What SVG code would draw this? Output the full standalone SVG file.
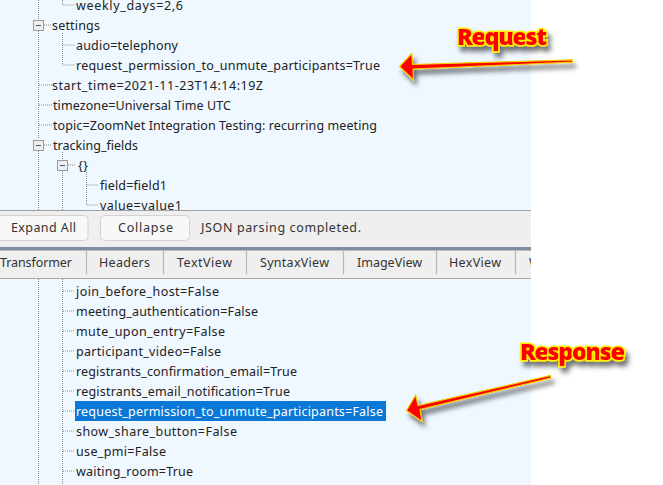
<svg xmlns="http://www.w3.org/2000/svg" width="663" height="485" viewBox="0 0 663 485">
<defs>
<filter id="sh" x="-20%" y="-40%" width="140%" height="200%"><feDropShadow dx="3" dy="5" stdDeviation="2.800" flood-color="#000" flood-opacity="0.55"/></filter>
<clipPath id="win"><rect x="0" y="0" width="531" height="485"/></clipPath>
</defs>
<style>
text{font-family:"Noto Sans","DejaVu Sans",sans-serif;font-size:12.5px;fill:#222}
.t{font-size:12.5px}
.ui{fill:#333;font-size:12.5px}
.sel{fill:#fff}
.dot{stroke:#8a8a8a;stroke-width:1;stroke-dasharray:1 1;fill:none}
.box{fill:#eee;stroke:#9a9a9a;stroke-width:1}
.minus{stroke:#3a5a8a;stroke-width:1}
.btn{fill:#f8f8f8;stroke:#d2d2d2;stroke-width:1}
.sep{stroke:#b8b8b8;stroke-width:1.2}
.call{font-family:"Open Sans","Noto Sans",sans-serif;font-weight:800;font-size:23.500px;fill:#f00;stroke:#ffee00;stroke-width:3.200px;paint-order:stroke}
.arrow{fill:#f00;stroke:#f2d000;stroke-width:1.200;stroke-linejoin:miter}
</style>
<rect width="663" height="485" fill="#fff"/>
<g id="window" clip-path="url(#win)">
<rect x="0" y="0" width="531" height="210" fill="#eff7ff"/>
<rect x="0" y="210" width="531" height="69" fill="#efefef"/>
<rect x="0" y="279" width="531" height="206" fill="#eff7ff"/>
<line x1="0" y1="210.500" x2="531" y2="210.500" stroke="#a0a0a0"/>
<rect x="0" y="247" width="531" height="3.500" fill="#7f8e9e"/>
<line x1="0" y1="278.500" x2="531" y2="278.500" stroke="#a8a8a8"/>
<g id="connectors">
<path class="dot" d="M38.500 0V20M38.500 31V139M38.500 151V210M62.500 0V5H75M44 25H52M62.500 33V65H75M62.500 45H75M39 85H52M39 105H52M39 125H52M44 145H52M62.500 152V159M62.500 171V210M68 165H76M86.500 172V205H98M86.500 185H98"/>
<path class="dot" d="M38.500 279V485M62.500 279V485M63 291H75M63 311H75M63 331H75M63 351H75M63 371H75M63 391H75M63 411H75M63 431H75M63 451H75M63 471H75"/>
</g>
<g id="tree-upper">
<text class="t" x="76" y="9.500" textLength="107">weekly_days=2,6</text>
<g id="n-settings"><rect class="box" x="33.500" y="20.500" width="10" height="10"/><line class="minus" x1="36" y1="25.500" x2="41" y2="25.500"/><text class="t" x="52" y="29.500" textLength="48">settings</text></g>
<text class="t" x="76" y="49.500" textLength="102">audio=telephony</text>
<text class="t" x="76" y="69.500" textLength="304">request_permission_to_unmute_participants=True</text>
<text class="t" x="52" y="89.500" textLength="211">start_time=2021-11-23T14:14:19Z</text>
<text class="t" x="53" y="109.500" textLength="178">timezone=Universal Time UTC</text>
<text class="t" x="53" y="129.500" textLength="324">topic=ZoomNet Integration Testing: recurring meeting</text>
<g id="n-tracking"><rect class="box" x="33.500" y="140.500" width="10" height="10"/><line class="minus" x1="36" y1="145.500" x2="41" y2="145.500"/><text class="t" x="53" y="149.500" textLength="85">tracking_fields</text></g>
<g id="n-object"><rect class="box" x="57.500" y="160.500" width="10" height="10"/><line class="minus" x1="60" y1="165.500" x2="65" y2="165.500"/><text class="t" x="78" y="169.500" textLength="10">{}</text></g>
<text class="t" x="100" y="189.500" textLength="67">field=field1</text>
<text class="t" x="100" y="209.500" textLength="82">value=value1</text>
</g>
<rect x="0" y="211" width="531" height="36" fill="#efefef"/>
<line x1="0" y1="210.500" x2="531" y2="210.500" stroke="#a0a0a0"/>
<g id="toolbar">
<rect class="btn" x="-4" y="215.500" width="92" height="25" rx="4"/>
<text class="ui" x="11" y="232" textLength="65">Expand All</text>
<rect class="btn" x="100.500" y="215.500" width="89" height="25" rx="4"/>
<text class="ui" x="118" y="232" textLength="55">Collapse</text>
<text class="ui" x="201" y="232" textLength="160">JSON parsing completed.</text>
</g>
<g id="tabs">
<text class="ui" x="0" y="267" textLength="72">Transformer</text>
<line class="sep" x1="86.500" y1="251" x2="86.500" y2="274"/>
<text class="ui" x="99" y="267" textLength="51">Headers</text>
<line class="sep" x1="163.500" y1="251" x2="163.500" y2="274"/>
<text class="ui" x="177" y="267" textLength="55">TextView</text>
<line class="sep" x1="246.500" y1="251" x2="246.500" y2="274"/>
<text class="ui" x="260" y="267" textLength="69">SyntaxView</text>
<line class="sep" x1="343.500" y1="251" x2="343.500" y2="274"/>
<text class="ui" x="357" y="267" textLength="65">ImageView</text>
<line class="sep" x1="436.500" y1="251" x2="436.500" y2="274"/>
<text class="ui" x="449" y="267" textLength="52">HexView</text>
<line class="sep" x1="515.500" y1="251" x2="515.500" y2="274"/>
<text class="ui" x="529" y="267">W</text>
</g>
<g id="tree-lower">
<text class="t" x="76" y="315.500" textLength="182">meeting_authentication=False</text>
<text class="t" x="76" y="295.500" textLength="143">join_before_host=False</text>
<text class="t" x="76" y="335.500" textLength="149">mute_upon_entry=False</text>
<text class="t" x="76" y="355.500" textLength="145">participant_video=False</text>
<text class="t" x="76" y="375.500" textLength="221">registrants_confirmation_email=True</text>
<text class="t" x="76" y="395.500" textLength="214">registrants_email_notification=True</text>
<rect x="75" y="401" width="311" height="20" fill="#0a78d7"/>
<text class="t sel" x="76" y="415.500" textLength="307">request_permission_to_unmute_participants=False</text>
<text class="t" x="76" y="435.500" textLength="161">show_share_button=False</text>
<text class="t" x="76" y="455.500" textLength="90">use_pmi=False</text>
<text class="t" x="76" y="475.500" textLength="117">waiting_room=True</text>
</g>
</g>
<g id="callout-request" filter="url(#sh)">
<polygon class="arrow" points="572.500,59.800 572.500,62.200 413,69 413.500,80 399.500,66.500 411.800,53.500 412.500,64.500"/>
<text class="call" x="457" y="45" textLength="90">Request</text>
</g>
<g id="callout-response" filter="url(#sh)">
<polygon class="arrow" points="550.500,375.500 551,378 420,409.500 422,421.500 406.500,410.500 415.700,395 418,405.500"/>
<text class="call" x="520" y="360" textLength="105">Response</text>
</g>
</svg>
